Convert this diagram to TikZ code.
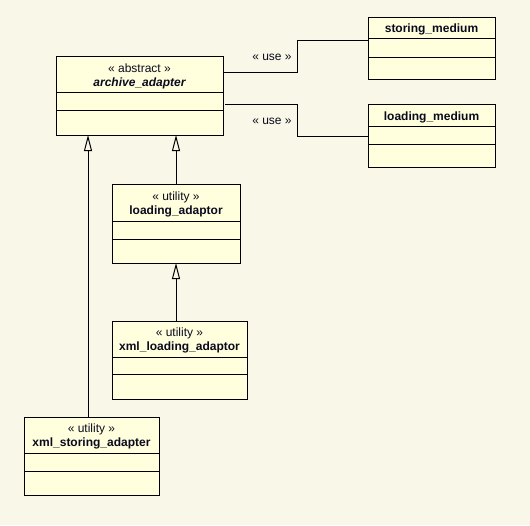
\documentclass[tikz,border=0pt]{standalone}
\usepackage{fontspec}
\setmainfont{Liberation Sans}
\usetikzlibrary{arrows.meta,calc}
\definecolor{bgc}{RGB}{249,248,232}
\definecolor{boxfill}{RGB}{255,255,221}
\definecolor{ink}{RGB}{10,10,30}
\begin{document}
\begin{tikzpicture}[x=1pt,y=-1pt, line width=1pt,
  cls/.style={draw=black, fill=boxfill, anchor=north west, inner sep=0pt, outer sep=0pt},
  ttl/.style={font=\fontsize{12}{14}\selectfont\bfseries, text=ink, inner sep=0pt, anchor=base},
  ster/.style={font=\fontsize{12}{14}\selectfont, text=ink, inner sep=0pt, anchor=base},
  gen/.style={-{Triangle[open,length=16pt,width=8pt]}, line width=1pt},
  conn/.style={line width=1pt}]
\fill[bgc] (0,0) rectangle (530,525);
\useasboundingbox (0,0) rectangle (530,525);

% archive_adapter
\node[cls, minimum width=167pt, minimum height=79pt] (arch) at (56,56) {};
\draw ($(arch.north west)+(0,36)$) -- ++(167,0);
\draw ($(arch.north west)+(0,54)$) -- ++(167,0);
\node[ster] (archS) at (139.5,72.5) {« abstract »};
\node[ttl, font=\fontsize{12}{14}\selectfont\bfseries\itshape] (archT) at (139.5,86.5) {archive\_adapter};

% storing_medium
\node[cls, minimum width=127pt, minimum height=62pt] (stor) at (368,17) {};
\draw ($(stor.north west)+(0,21.5)$) -- ++(127,0);
\draw ($(stor.north west)+(0,40)$) -- ++(127,0);
\node[ttl] (storT) at (431.5,32.5) {storing\_medium};

% loading_medium
\node[cls, minimum width=127pt, minimum height=63pt] (loadm) at (368,104) {};
\draw ($(loadm.north west)+(0,22)$) -- ++(127,0);
\draw ($(loadm.north west)+(0,40.5)$) -- ++(127,0);
\node[ttl] (loadmT) at (431.5,120) {loading\_medium};

% loading_adaptor
\node[cls, minimum width=128pt, minimum height=79pt] (lad) at (112,184) {};
\draw ($(lad.north west)+(0,37)$) -- ++(128,0);
\draw ($(lad.north west)+(0,55)$) -- ++(128,0);
\node[ster] (ladS) at (176,200) {« utility »};
\node[ttl] (ladT) at (176,214) {loading\_adaptor};

% xml_loading_adaptor
\node[cls, minimum width=135pt, minimum height=78pt] (xla) at (112,321) {};
\draw ($(xla.north west)+(0,36)$) -- ++(135,0);
\draw ($(xla.north west)+(0,53.5)$) -- ++(135,0);
\node[ster] (xlaS) at (179.5,336.5) {« utility »};
\node[ttl] (xlaT) at (179.5,350.5) {xml\_loading\_adaptor};

% xml_storing_adapter
\node[cls, minimum width=135pt, minimum height=78pt] (xsa) at (24,417) {};
\draw ($(xsa.north west)+(0,36)$) -- ++(135,0);
\draw ($(xsa.north west)+(0,54)$) -- ++(135,0);
\node[ster] (xsaS) at (91.5,432) {« utility »};
\node[ttl] (xsaT) at (91.5,446) {xml\_storing\_adapter};

% use dependencies
\coordinate (u1a) at (297,72);
\coordinate (u1b) at (297,40);
\draw[conn] (arch.east |- u1a) -- (u1a) -- (u1b) -- (stor.west |- u1b);
\node[ster] (u1L) at (272,60) {« use »};

\coordinate (u2a) at (297,104);
\coordinate (u2b) at (297,136);
\draw[conn] ($(arch.east |- u2a)+(2,0)$) -- (u2a) -- (u2b) -- (loadm.west |- u2b);
\node[ster] (u2L) at (272,124.3) {« use »};

% generalizations
\coordinate (g1) at (88,0);
\draw[gen] (xsa.north -| g1) -- (arch.south -| g1);
\coordinate (g2) at (176,0);
\draw[gen] (lad.north -| g2) -- (arch.south -| g2);
\draw[gen] (xla.north -| g2) -- (lad.south -| g2);
\end{tikzpicture}
\end{document}
